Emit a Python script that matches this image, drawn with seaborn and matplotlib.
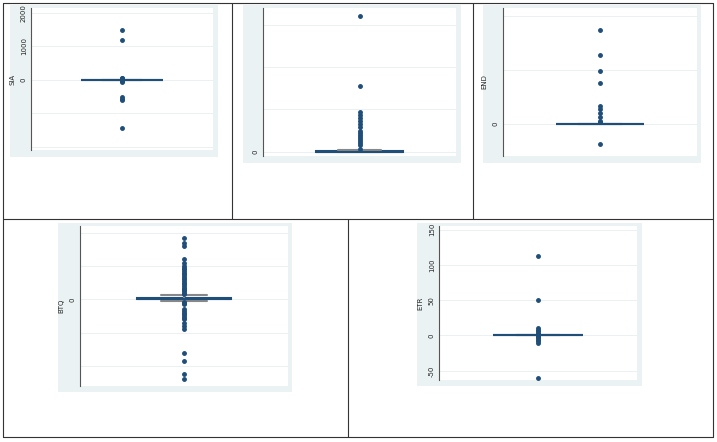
import matplotlib
matplotlib.use("Agg")
import matplotlib.pyplot as plt
import seaborn as sns
import pandas as pd

sns.set_style("white")

zeros = [0.0] * 60
sia = [1500, 1200, 60, 40, 25, 15, 10, 5, 2, -3, -8, -15, -30, -50, -500, -560, -600, -1450] + zeros
btq_p2 = [3.2, 1.55, 0.95, 0.88, 0.8, 0.72, 0.65, 0.58, 0.5, 0.45, 0.4, 0.35, 0.3, 0.25, 0.2, 0.15,
          0.06, 0.05, 0.04, 0.03, 0.02, 0.01, 0.01, 0.02, 0.03, 0.01] + zeros
end = [1.74, 1.27, 0.98, 0.75, 0.32, 0.28, 0.2, 0.12, 0.05, 0.03, -0.37] + zeros
btq = [1.85, 1.7, 1.6, 1.2, 1.1, 1.0, 0.95, 0.9, 0.85, 0.8, 0.75, 0.7, 0.65, 0.6, 0.55, 0.5, 0.45, 0.4,
       0.35, 0.3, 0.28, 0.25, 0.2, 0.1, 0.05, 0.02, 0.03, 0.04, -0.02, -0.03, -0.05, -0.1, -0.15,
       -0.3, -0.35, -0.4, -0.45, -0.5, -0.55, -0.6, -0.7, -0.8, -0.9, -1.6, -1.85, -2.25, -2.4,
       0.06, -0.06, 0.08, -0.08, 0.1, -0.1, 0.12, -0.12, 0.15] + zeros
etr = [112, 50, 10, 8, 6, 4, 2, 1, -1, -2, -4, -6, -8, -10, -60] + zeros

panels = [
    (sia, "SIA", (-2100, 2150), [-2000, -1000, 0, 1000, 2000], ["", "", "0", "1000", "2000"], (10, 5, 218, 157), (31, 8, 213, 150)),
    (btq_p2, "", (-0.1, 3.4), [0, 1, 2, 3], ["0", "", "", ""], (243, 5, 461, 163), (263, 8, 456, 156)),
    (end, "END", (-0.6, 2.15), [0, 1, 2], ["0", "", ""], (483, 5, 701, 163), (503, 8, 697, 156)),
    (btq, "BTQ", (-2.6, 2.2), [-2, -1, 0, 1, 2], ["", "", "0", "", ""], (58, 223, 292, 392), (80, 226, 288, 386)),
    (etr, "ETR", (-63, 155), [-50, 0, 50, 100, 150], ["-50", "0", "50", "100", "150"], (417, 223, 642, 386), (439, 226, 637, 380)),
]

W, H = 717, 442
fig = plt.figure(figsize=(7.17, 4.42), dpi=100)
fig.patch.set_facecolor("white")

def rect(px):
    x0, y0, x1, y1 = px
    return [x0 / W, 1 - y1 / H, (x1 - x0) / W, (y1 - y0) / H]

col = "#1f4e79"
for data, lab, ylim, ticks, tl, bg, pr in panels:
    bga = fig.add_axes(rect(bg))
    bga.set_facecolor("#eaf2f3")
    bga.set_xticks([]); bga.set_yticks([])
    for s in bga.spines.values():
        s.set_visible(False)
    ax = fig.add_axes(rect(pr))
    df = pd.DataFrame({"v": data})
    sns.boxplot(data=df, y="v", ax=ax, width=0.45, color="#5b7fa6",
                whis=1.5, linewidth=1.5,
                flierprops=dict(marker="o", markersize=2.5, markerfacecolor=col, markeredgecolor=col),
                medianprops=dict(color=col), whiskerprops=dict(color="#888"), capprops=dict(color="#888"),
                boxprops=dict(edgecolor=col))
    ax.set_ylim(*ylim)
    ax.set_yticks(ticks)
    ax.set_yticklabels(tl, rotation=90, fontsize=5, va="center")
    ax.set_xticks([])
    ax.set_xlabel("")
    ax.set_ylabel(lab, fontsize=5)
    ax.grid(axis="y", color="#e8eef0", lw=0.6)
    for s in ["top", "right", "bottom"]:
        ax.spines[s].set_visible(False)
    ax.spines["left"].set_color("#555")
    ax.tick_params(axis="y", length=2, pad=1)

line = dict(color="#333", lw=0.8, transform=fig.transFigure)
def L(x0, y0, x1, y1):
    fig.add_artist(plt.Line2D([x0 / W, x1 / W], [1 - y0 / H, 1 - y1 / H], **line))
L(3, 3, 713, 3); L(3, 219, 713, 219); L(3, 437, 713, 437)
L(3, 3, 3, 437); L(713, 3, 713, 437)
L(232, 3, 232, 219); L(473, 3, 473, 219); L(348, 219, 348, 437)

fig.savefig("out.png", dpi=100)
